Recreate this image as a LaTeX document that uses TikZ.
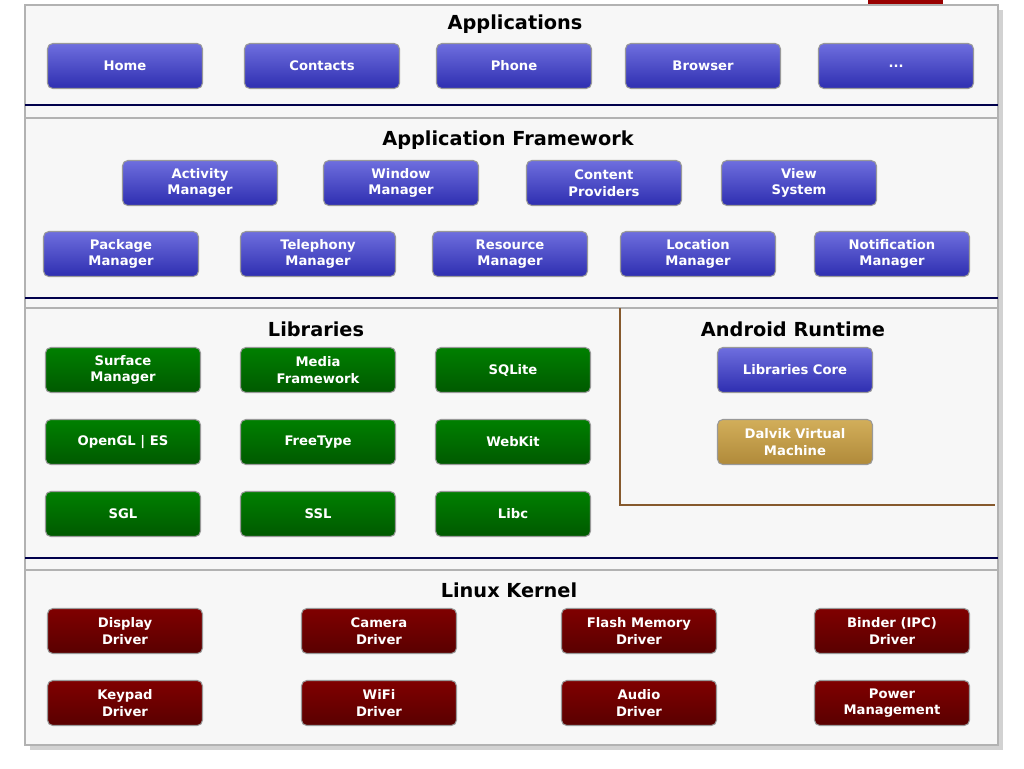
\documentclass[tikz,border=0pt]{standalone}
\usepackage{fontspec}
\setmainfont{DejaVu Sans}
\usepackage{tikz}

\definecolor{btnblue}{HTML}{4A4AD6}
\definecolor{btnbluedark}{HTML}{2E2EB0}
\definecolor{btngold}{HTML}{D2AE5A}
\definecolor{btngolddark}{HTML}{B08A3A}

\tikzset{
  btn/.style={rounded corners=3pt, minimum width=3.1cm, minimum height=0.9cm, align=center,
    text=white, font=\fontsize{7.5}{9.5}\selectfont\bfseries, draw=black!40, line width=0.6pt, inner sep=1pt},
  blue btn/.style={btn, top color=btnblue!80!white, bottom color=btnbluedark},
  green btn/.style={btn, top color=green!50!black, bottom color=green!35!black},
  red btn/.style={btn, top color=red!50!black, bottom color=red!35!black},
  gold btn/.style={btn, top color=btngold, bottom color=btngolddark},
  title/.style={font=\fontsize{11}{12}\selectfont\bfseries, text=black},
  layer/.style={fill=gray!6, draw=gray!60, line width=0.8pt}
}

\begin{document}
\begin{tikzpicture}[x=0.02cm, y=-0.02cm]
\useasboundingbox (0,0) rectangle (1024,768);
\fill[white] (0,0) rectangle (1024,768);
\fill[gray!35] (30,10) rectangle (1003,750);
\draw[layer] (25,5) rectangle (998,745);
\fill[red!60!black] (868,0) rectangle (943,12);

% layers
\draw[layer] (25,5) rectangle (998,105);
\draw[layer] (25,118) rectangle (998,298);
\draw[layer] (25,308) rectangle (998,558);
\draw[layer] (25,570) rectangle (998,745);
\draw[blue!30!black, line width=1.5pt] (25,105) -- (998,105);
\draw[blue!30!black, line width=1.5pt] (25,298) -- (998,298);
\draw[blue!30!black, line width=1.5pt] (25,558) -- (998,558);
\draw[brown!70!black, line width=1pt] (620,308) -- (620,505) -- (995,505);

% applications
\node[title] (apps) at (515,24) {Applications};
\node[blue btn] (home) at (125,66) {Home};
\node[blue btn] (contacts) at (322,66) {Contacts};
\node[blue btn] (phone) at (514,66) {Phone};
\node[blue btn] (browser) at (703,66) {Browser};
\node[blue btn] (more) at (896,66) {...};

% application framework
\node[title] (frame) at (508,140) {Application Framework};
\node[blue btn] (activity) at (200,183) {Activity\\Manager};
\node[blue btn] (window) at (401,183) {Window\\Manager};
\node[blue btn] (content) at (604,183) {Content\\Providers};
\node[blue btn] (view) at (799,183) {View\\System};
\node[blue btn] (package) at (121,254) {Package\\Manager};
\node[blue btn] (telephony) at (318,254) {Telephony\\Manager};
\node[blue btn] (resource) at (510,254) {Resource\\Manager};
\node[blue btn] (location) at (698,254) {Location\\Manager};
\node[blue btn] (notify) at (892,254) {Notification\\Manager};

% libraries
\node[title] (libs) at (316,329) {Libraries};
\node[green btn] (surface) at (123,370) {Surface\\Manager};
\node[green btn] (media) at (318,370) {Media\\Framework};
\node[green btn] (sqlite) at (513,370) {SQLite};
\node[green btn] (opengl) at (123,442) {OpenGL | ES};
\node[green btn] (freetype) at (318,442) {FreeType};
\node[green btn] (webkit) at (513,442) {WebKit};
\node[green btn] (sgl) at (123,514) {SGL};
\node[green btn] (ssl) at (318,514) {SSL};
\node[green btn] (libc) at (513,514) {Libc};

% android runtime
\node[title] (runtime) at (793,329) {Android Runtime};
\node[blue btn] (core) at (795,370) {Libraries Core};
\node[gold btn] (dalvik) at (795,442) {Dalvik Virtual\\Machine};

% linux kernel
\node[title] (kernel) at (509,590) {Linux Kernel};
\node[red btn] (display) at (125,631) {Display\\Driver};
\node[red btn] (camera) at (379,631) {Camera\\Driver};
\node[red btn] (flash) at (639,631) {Flash Memory\\Driver};
\node[red btn] (binder) at (892,631) {Binder (IPC)\\Driver};
\node[red btn] (keypad) at (125,703) {Keypad\\Driver};
\node[red btn] (wifi) at (379,703) {WiFi\\Driver};
\node[red btn] (audio) at (639,703) {Audio\\Driver};
\node[red btn] (power) at (892,703) {Power\\Management};
\end{tikzpicture}
\end{document}
